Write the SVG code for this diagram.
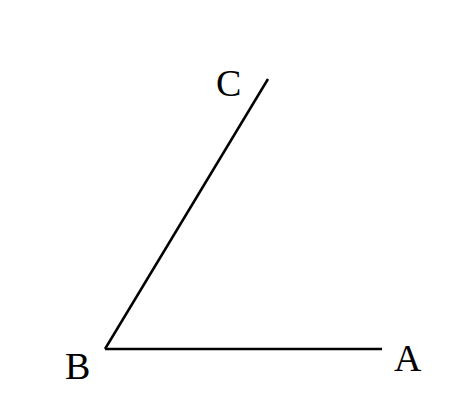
<svg xmlns="http://www.w3.org/2000/svg" width="474" height="413" viewBox="0 0 474 413">
<style>
.lbl{font-family:"Liberation Serif","Times New Roman",serif;font-size:38px;fill:#000}
.ln{stroke:#000;stroke-width:2.5;fill:none}
</style>
<rect width="474" height="413" fill="#fff"/>
<g id="connectors">
<line class="ln" x1="105" y1="349" x2="382" y2="349"/>
<line class="ln" x1="105" y1="349" x2="268" y2="79"/>
</g>
<g id="node-C"><text class="lbl" x="216" y="96">C</text></g>
<g id="node-B"><text class="lbl" x="65" y="379">B</text></g>
<g id="node-A"><text class="lbl" x="394" y="371">A</text></g>
</svg>
